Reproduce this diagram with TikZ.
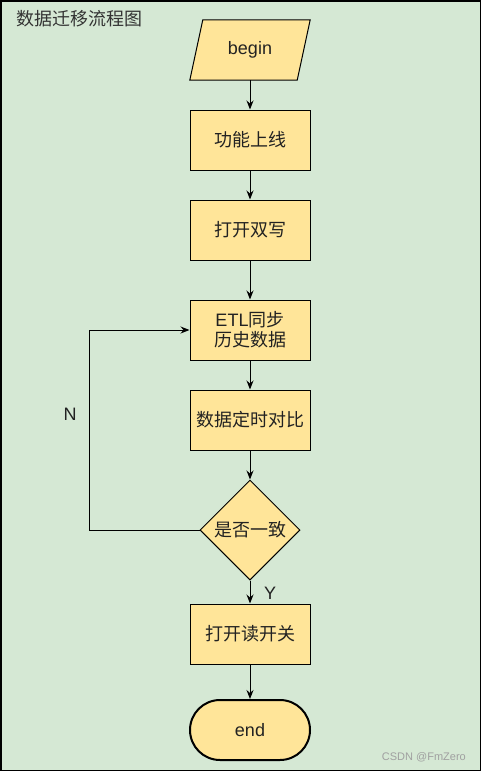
\documentclass[tikz,border=0pt]{standalone}
\usepackage{fontspec}
\setmainfont{Liberation Sans}
\newfontfamily\cjk{Noto Sans CJK SC}
\usetikzlibrary{shapes.geometric,arrows.meta,backgrounds}
\definecolor{bggreen}{HTML}{D5E8D4}
\definecolor{boxfill}{HTML}{FFE599}
\definecolor{txt}{HTML}{222222}
\definecolor{wmark}{HTML}{A0A0A0}
\tikzset{
  x=1pt,y=-1pt,
  every node/.style={font=\fontsize{18}{21}\selectfont, text=txt},
  procbox/.style={draw=black, fill=boxfill, line width=1pt, minimum width=120, minimum height=60, inner sep=0, align=center},
  decbox/.style={draw=black, fill=boxfill, line width=1pt, shape=diamond, minimum width=100, minimum height=100, inner sep=0},
  termbox/.style={draw=black, fill=boxfill, line width=2pt, rounded corners=30, minimum width=120, minimum height=60, inner sep=0},
  iobox/.style={minimum width=120, minimum height=60, inner sep=0},
  arr/.style={draw=black, line width=1pt, -{Stealth[length=9pt,width=7pt,inset=3pt]}},
  lbl/.style={font=\fontsize{18}{21}\selectfont},
}
\begin{document}
\begin{tikzpicture}
\useasboundingbox (0,0) rectangle (481,771);
\begin{scope}[on background layer]
  \path[fill=bggreen, draw=black, line width=1.5pt] (0.75,0.75) rectangle (480.25,770.25);
\end{scope}
\node[anchor=west, inner sep=0, text=black!80] (title) at (16.5,19) {\cjk 数据迁移流程图};
\node[iobox] (begin) at (250,50) {begin};
\begin{scope}[on background layer]
  \path[fill=boxfill, draw=black, line width=1pt]
    ([xshift=13]begin.north west) -- (begin.north east) -- ([xshift=-13]begin.south east) -- (begin.south west) -- cycle;
\end{scope}
\node[procbox] (online) at (250,140) {\cjk 功能上线};
\node[procbox] (dual) at (250,230) {\cjk 打开双写};
\node[procbox] (etl) at (250,330) {ETL{\cjk 同步}\\[-1pt]{\cjk 历史数据}};
\node[procbox] (cmp) at (250,420) {\cjk 数据定时对比};
\node[decbox] (dec) at (250,530) {\cjk 是否一致};
\node[procbox] (read) at (250,634) {\cjk 打开读开关};
\node[termbox] (end) at (250,730) {end};
\draw[arr] (begin.south) -- (online.north);
\draw[arr] (online) -- (dual);
\draw[arr] (dual) -- (etl);
\draw[arr] (etl) -- (cmp);
\draw[arr] (cmp) -- (dec);
\draw[arr] (dec) -- (read);
\draw[arr] (read) -- (end);
\draw[arr] (dec.west) -- ++(-110,0) |- (etl.west);
\node[lbl] (nlab) at (70,414) {N};
\node[lbl] (ylab) at (270,593) {Y};
\node[font=\fontsize{11}{13}\selectfont, text=wmark, anchor=east, inner sep=0] (wm) at (466,757) {CSDN @FmZero};
\end{tikzpicture}
\end{document}
